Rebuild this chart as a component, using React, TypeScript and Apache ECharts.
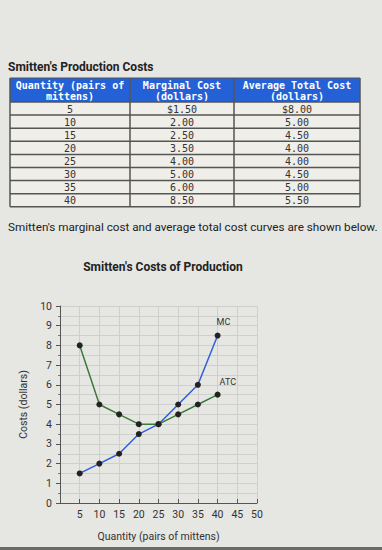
import React, { useEffect, useRef } from "react";
import * as echarts from "echarts";

const quantities = [5, 10, 15, 20, 25, 30, 35, 40];
const marginalCost = [1.5, 2, 2.5, 3.5, 4, 5, 6, 8.5];
const averageTotalCost = [8, 5, 4.5, 4, 4, 4.5, 5, 5.5];
const tableHeaders = ["Quantity (pairs of\nmittens)", "Marginal Cost\n(dollars)", "Average Total Cost\n(dollars)"];
const xTicks = [0, 5, 10, 15, 20, 25, 30, 35, 40, 45, 50];

const W = 382;
const H = 550;

function buildTable(): any[] {
  const els: any[] = [];
  const colX = [10, 130, 234, 360];
  const top = 78;
  const headH = 24;
  const rowH = 13.1;
  const mono = "DejaVu Sans Mono";
  const n = quantities.length;
  const bottom = top + headH + rowH * n;
  els.push({ type: "rect", shape: { x: colX[0], y: top, width: colX[3] - colX[0], height: headH }, style: { fill: "#2461d6" } });
  els.push({ type: "rect", shape: { x: colX[0], y: top + headH, width: colX[3] - colX[0], height: rowH * n }, style: { fill: "#efeee9" } });
  tableHeaders.forEach((h, i) => {
    els.push({
      type: "text",
      style: {
        text: h, x: (colX[i] + colX[i + 1]) / 2, y: top + headH / 2 + 0.5,
        textAlign: "center", textVerticalAlign: "middle",
        fill: "#ffffff", fontFamily: mono, fontWeight: "bold", fontSize: 10, lineHeight: 11,
      },
    });
  });
  for (let r = 0; r < n; r++) {
    const cy = top + headH + rowH * r + rowH / 2 + 0.5;
    const vals = [
      String(quantities[r]),
      (r === 0 ? "$" : "") + marginalCost[r].toFixed(2),
      (r === 0 ? "$" : "") + averageTotalCost[r].toFixed(2),
    ];
    vals.forEach((v, i) => {
      els.push({
        type: "text",
        style: {
          text: v, x: (colX[i] + colX[i + 1]) / 2, y: cy,
          textAlign: "center", textVerticalAlign: "middle",
          fill: "#333333", fontFamily: mono, fontSize: 10,
        },
      });
    });
  }
  for (let r = 0; r <= n; r++) {
    const y = top + headH + rowH * r;
    els.push({ type: "line", shape: { x1: colX[0], y1: y, x2: colX[3], y2: y }, style: { stroke: "#555", lineWidth: 1.5 } });
  }
  els.push({ type: "line", shape: { x1: colX[0], y1: top, x2: colX[3], y2: top }, style: { stroke: "#555", lineWidth: 1.2 } });
  colX.forEach((x) => {
    els.push({ type: "line", shape: { x1: x, y1: top, x2: x, y2: bottom }, style: { stroke: "#555", lineWidth: 1.5 } });
  });
  return els;
}

export default function App() {
  const ref = useRef<HTMLDivElement>(null);
  useEffect(() => {
    if (!ref.current) return;
    const chart = echarts.init(ref.current, null, { renderer: "svg" });
    const mcData = quantities.map((q, i) => [q, marginalCost[i]]);
    const atcData = quantities.map((q, i) => [q, averageTotalCost[i]]);
    const lastIdx = quantities.length - 1;
    const option: any = {
      animation: false,
      backgroundColor: "#e6e6e3",
      textStyle: { fontFamily: "Roboto" },
      title: {
        text: "Smitten's Costs of Production",
        left: 158, top: 256, textAlign: "center",
        textStyle: { fontSize: 12, fontWeight: "bold", color: "#222", fontFamily: "Roboto" },
      },
      grid: { left: 60, right: 125, top: 306, bottom: 47 },
      xAxis: {
        type: "value", min: 0, max: 50, interval: 5,
        name: "Quantity (pairs of mittens)", nameLocation: "middle", nameGap: 28,
        nameTextStyle: { fontSize: 10.5, color: "#333", fontFamily: "Roboto" },
        axisLine: { show: true, lineStyle: { color: "#555", width: 1 } },
        axisTick: { show: true, inside: true, length: 4, lineStyle: { color: "#555" } },
        axisLabel: {
          fontSize: 10.5, color: "#333", margin: 6,
          formatter: (v: number) => (v === 0 ? "" : xTicks.includes(v) ? String(v) : ""),
        },
        splitLine: { show: true, lineStyle: { color: "#cfcfcd", width: 1 } },
      },
      yAxis: {
        type: "value", min: 0, max: 10, interval: 1,
        name: "Costs (dollars)", nameLocation: "middle", nameGap: 30,
        nameTextStyle: { fontSize: 10.5, color: "#333", fontFamily: "Roboto" },
        axisLine: { show: true, lineStyle: { color: "#555", width: 1 } },
        axisTick: { show: true, inside: false, length: 4, lineStyle: { color: "#555" } },
        minorTick: { show: true, splitNumber: 2, length: 2, lineStyle: { color: "#777" } },
        minorSplitLine: { show: true, lineStyle: { color: "#cfcfcd", width: 1 } },
        axisLabel: { fontSize: 10.5, color: "#333", margin: 8 },
        splitLine: { show: true, lineStyle: { color: "#cfcfcd", width: 1 } },
      },
      series: [
        {
          name: "MC", type: "line", data: mcData.map((d, i) => i === lastIdx ? {
            value: d,
            label: { show: true, formatter: "MC", position: [2, -15], fontSize: 9, color: "#333" },
          } : d),
          symbol: "circle", symbolSize: 6,
          itemStyle: { color: "#222" },
          lineStyle: { color: "#2f5fe0", width: 1.5 },
          z: 2,
        },
        {
          name: "ATC", type: "line", data: atcData.map((d, i) => i === lastIdx ? {
            value: d,
            label: { show: true, formatter: "ATC", position: [5, -14], fontSize: 9, color: "#333" },
          } : d),
          symbol: "circle", symbolSize: 6,
          itemStyle: { color: "#222" },
          lineStyle: { color: "#3b7a3b", width: 1.5 },
          z: 3,
        },
      ],
      graphic: [
        {
          type: "text",
          style: { text: "Smitten's Production Costs", x: 8, y: 67, textVerticalAlign: "middle", fill: "#222", fontFamily: "Roboto", fontWeight: "bold", fontSize: 12 },
        },
        ...buildTable(),
        {
          type: "text",
          style: { text: "Smitten's marginal cost and average total cost curves are shown below.", x: 8, y: 227, textVerticalAlign: "middle", fill: "#222", fontFamily: "Roboto", fontSize: 11.7 },
        },
        { type: "rect", shape: { x: 0, y: 547, width: W, height: 3 }, style: { fill: "#6a6a6a" } },
      ],
    };
    chart.setOption(option);
    return () => chart.dispose();
  }, []);
  return <div ref={ref} style={{ position: "fixed", left: 0, top: 0, width: W, height: H }} />;
}
